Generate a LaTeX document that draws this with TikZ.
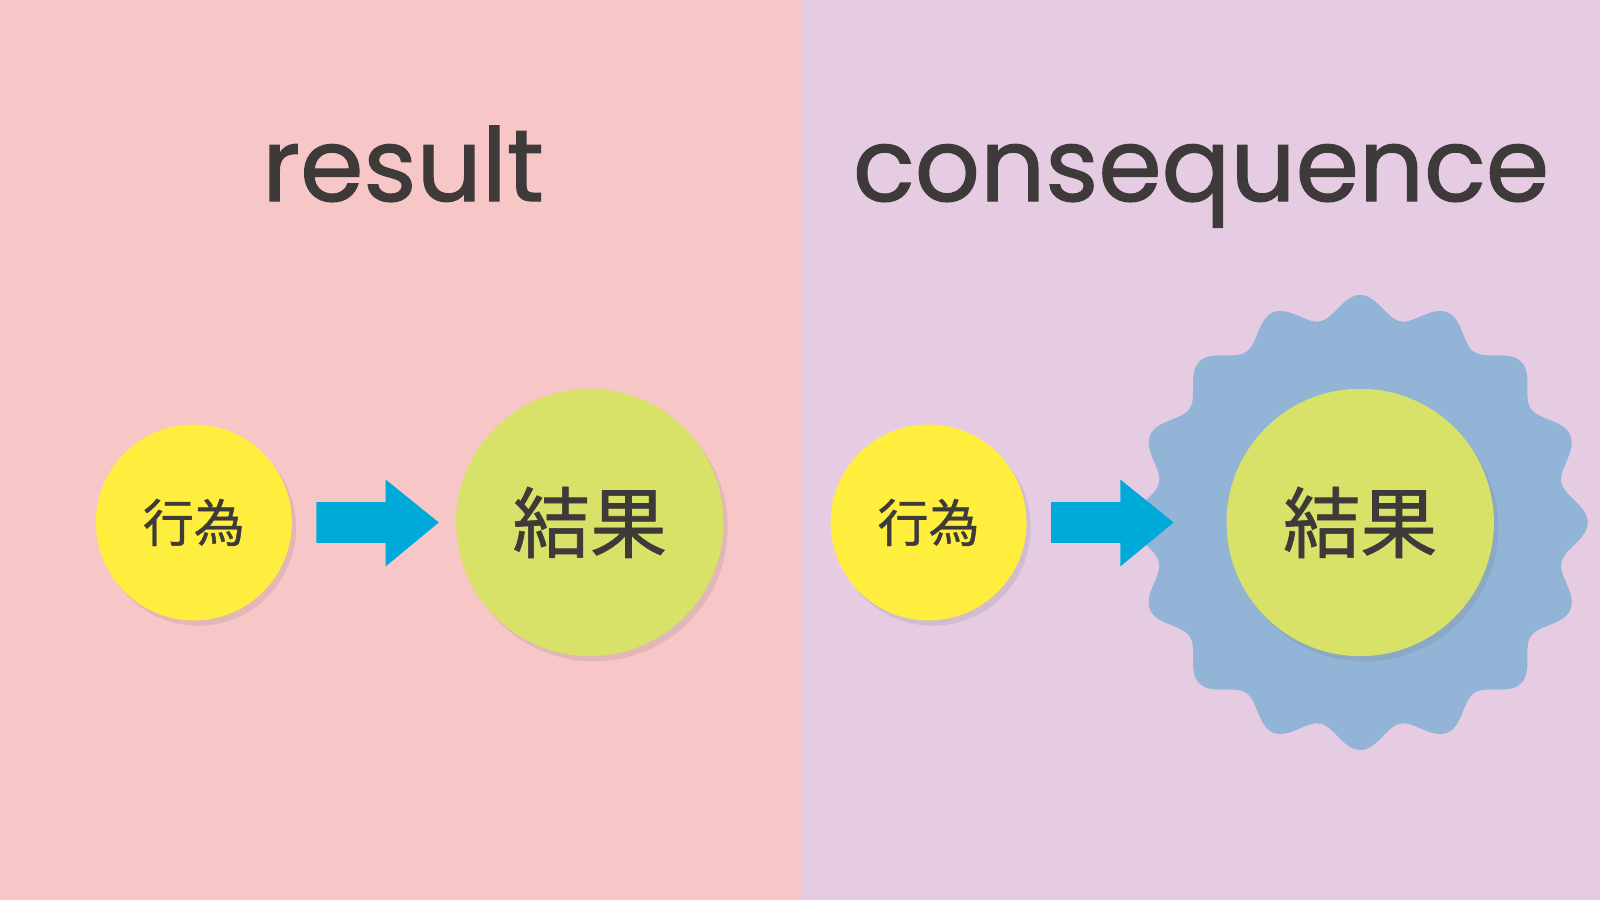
\documentclass[tikz,border=0pt]{standalone}
\usepackage{fontspec}
\setmainfont{Poppins}
\newfontfamily\titlefont{Poppins}[FakeBold=1.2]
\newfontfamily\cjk{Noto Sans CJK JP}[FakeBold=0.8]
\usetikzlibrary{shadows}
\definecolor{pinkbg}{HTML}{F7C6C6}
\definecolor{purplebg}{HTML}{E5CCE2}
\definecolor{txt}{HTML}{3E3A39}
\definecolor{yel}{HTML}{FFEE3E}
\definecolor{grn}{HTML}{D9E268}
\definecolor{arr}{HTML}{00AAD8}
\definecolor{blob}{HTML}{92B4D6}
\begin{document}
\begin{tikzpicture}[x=0.010204cm,y=-0.010204cm,
  shd/.style={drop shadow={shadow xshift=1.2pt,shadow yshift=-1.5pt,opacity=0.15,fill=black!60}},
  actc/.style={circle,fill=yel,minimum size=192*0.010204cm,inner sep=0pt,shd,text=txt,font=\cjk\fontsize{14.5}{14.5}\selectfont},
  resc/.style={circle,fill=grn,minimum size=262*0.010204cm,inner sep=0pt,shd,text=txt,font=\cjk\fontsize{22}{22}\selectfont},
  title/.style={text=txt,anchor=base,font=\titlefont\fontsize{29}{29}\selectfont}]
\useasboundingbox (0,0) rectangle (1568,882);
\fill[pinkbg] (0,0) rectangle (786,882);
\fill[purplebg] (786,0) rectangle (1568,882);
\node[title] (t1) at (395,197) {result};
\node[title] (t2) at (1177,197) {consequence};
\fill[blob] plot[domain=0:360,samples=400,smooth] ({1333+(212+11*cos(16*\x))*cos(\x)},{512+(212+11*cos(16*\x))*sin(\x)}) -- cycle;
\node[actc] (a1) at (190,512) {行為};
\node[resc] (r1) at (578,512) {結果};
\node[actc] (a2) at (910,512) {行為};
\node[resc] (r2) at (1333,512) {結果};
\fill[arr] (310,492) -- (378,492) -- (378,470) -- (430,512) -- (378,555) -- (378,532) -- (310,532) -- cycle;
\fill[arr] (1030,492) -- (1098,492) -- (1098,470) -- (1150,512) -- (1098,555) -- (1098,532) -- (1030,532) -- cycle;
\end{tikzpicture}
\end{document}
